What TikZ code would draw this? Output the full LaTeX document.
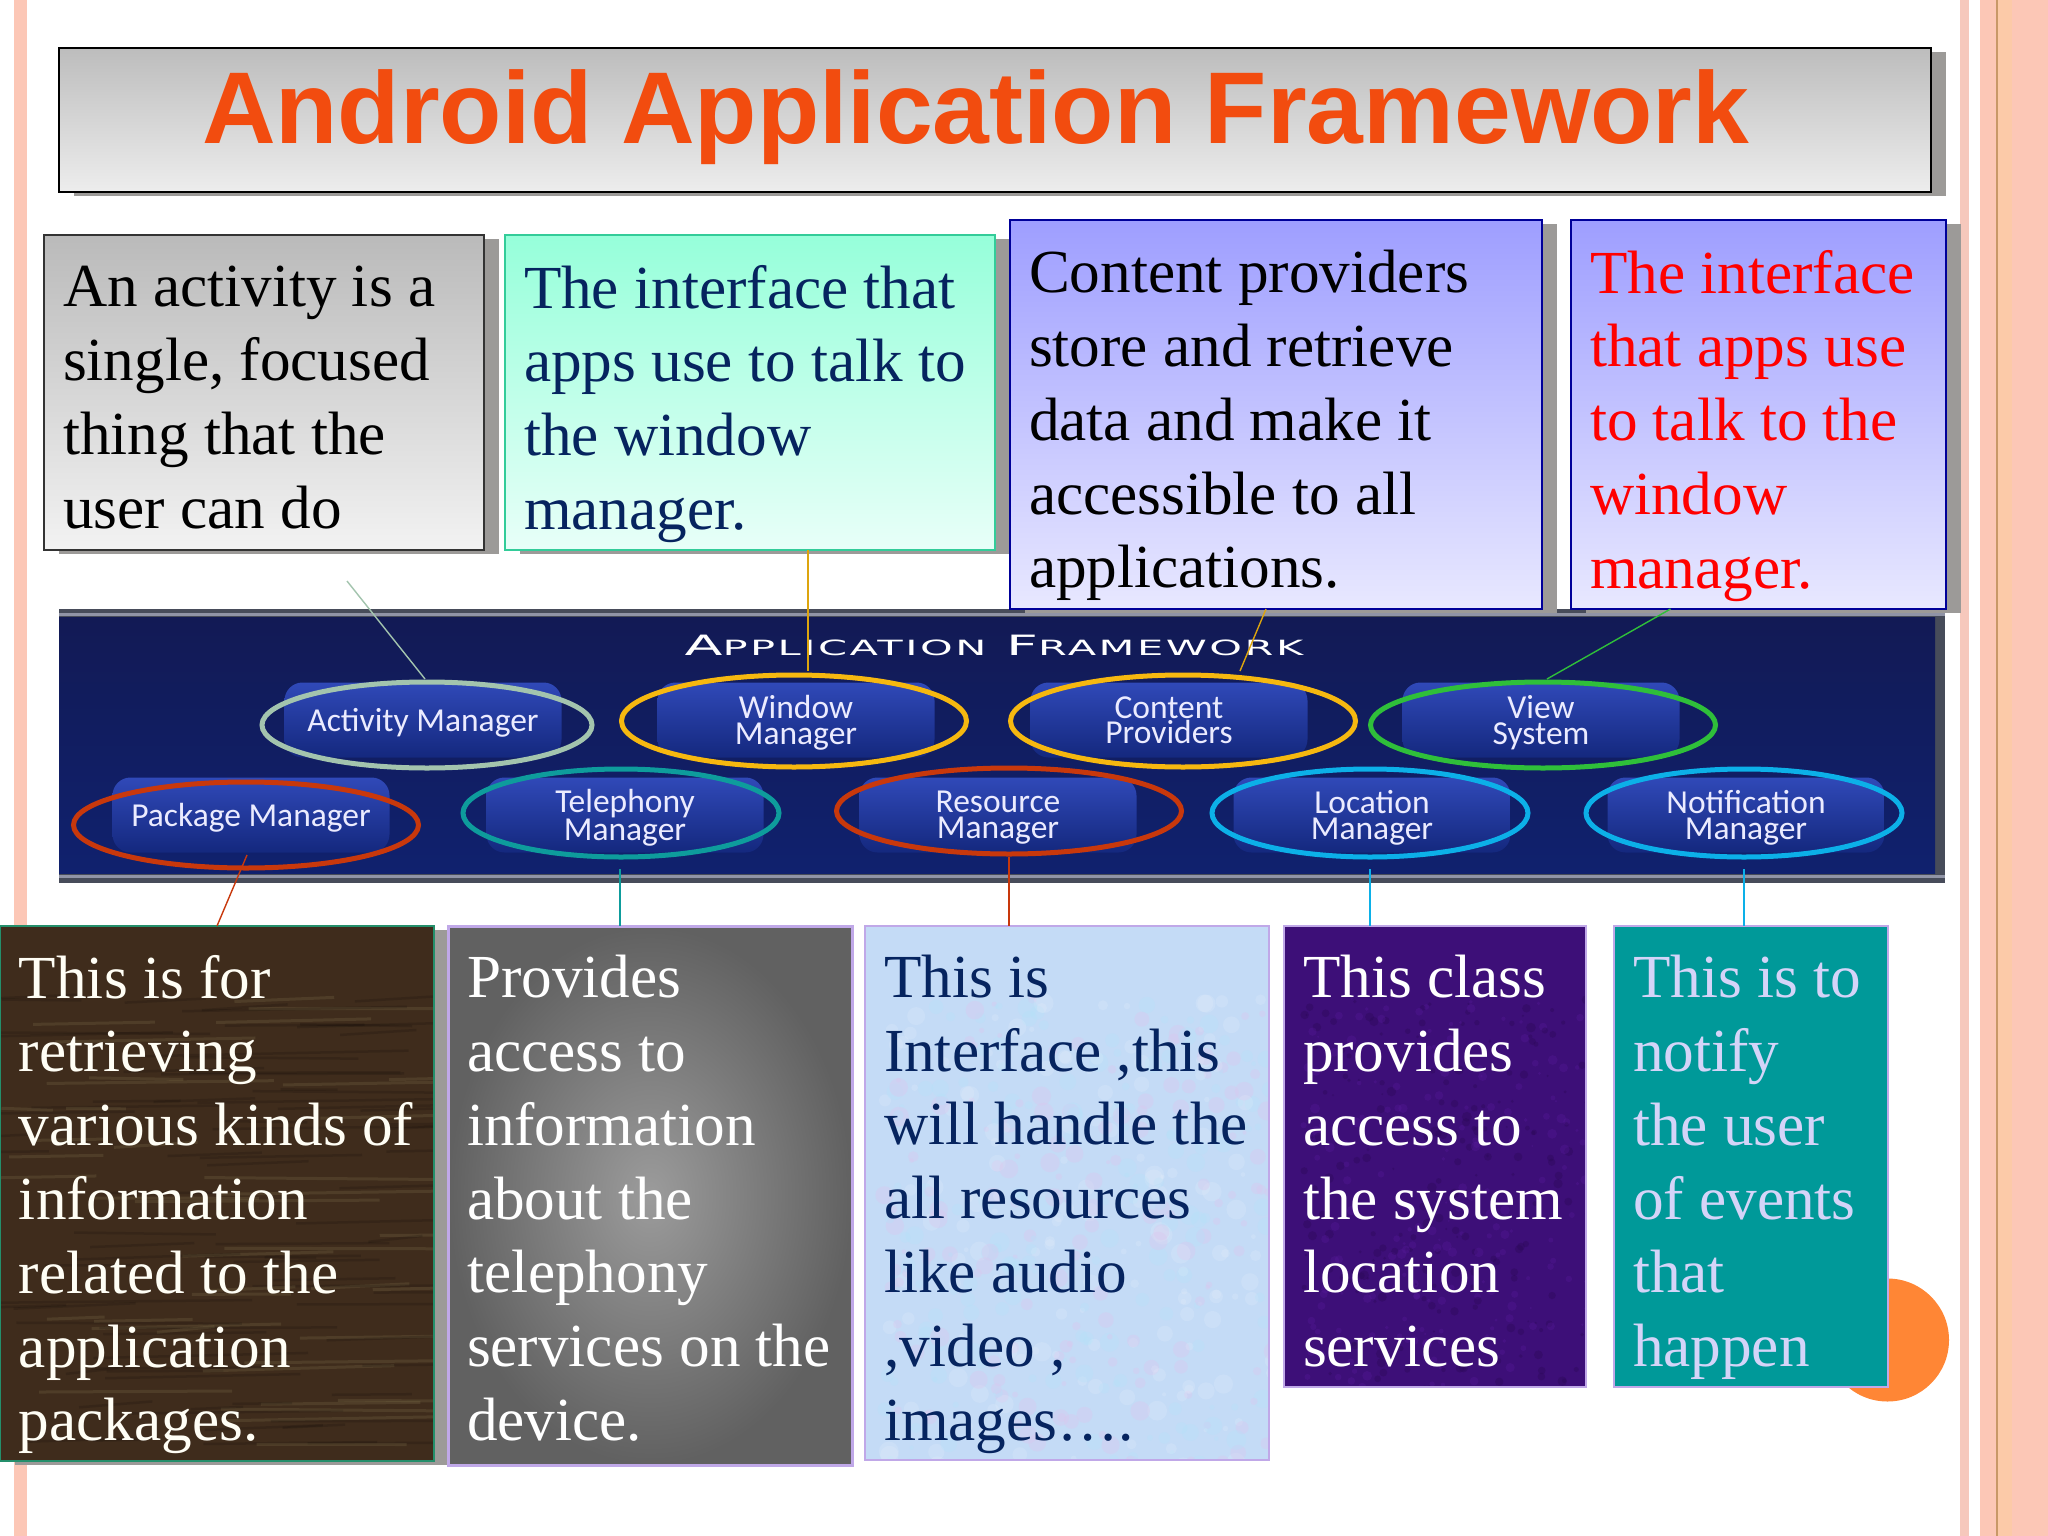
\documentclass[tikz,border=0pt]{standalone}
\usepackage{fontspec}
\usepackage{graphicx}
\usepackage{tikz}
\usetikzlibrary{shapes.geometric,shadows}
\setmainfont{Liberation Serif}
\newfontfamily\titlefont{Liberation Sans}
\newfontfamily\btnfont{Carlito}
\newfontfamily\capsfont{DejaVu Sans}[LetterSpace=6]

\definecolor{pinkstrip}{HTML}{FCC7B6}
\definecolor{palepink}{HTML}{F6C8BC}
\definecolor{peachstrip}{HTML}{FCCAA8}
\definecolor{tanline}{HTML}{C89868}
\definecolor{dotorange}{HTML}{FF8635}
\definecolor{titleorange}{HTML}{F24C0F}
\definecolor{shadowgrey}{HTML}{9C9A98}
\definecolor{sage}{HTML}{A3C4AE}
\definecolor{amber}{HTML}{F6B810}
\definecolor{rust}{HTML}{C8380C}
\definecolor{tealring}{HTML}{0E9C9C}
\definecolor{skyring}{HTML}{0CB0E8}
\definecolor{greenring}{HTML}{2FBF3A}
\definecolor{inkblue}{HTML}{06245F}
\definecolor{lilac}{HTML}{C0A8E8}
\definecolor{btntop}{HTML}{3049B8}
\definecolor{btnlow}{HTML}{14287E}
\definecolor{bandtop}{HTML}{121A55}
\definecolor{bandlow}{HTML}{10216E}
\definecolor{framedark}{HTML}{474C5A}
\definecolor{framelight}{HTML}{9094A6}
\definecolor{mint}{HTML}{96FFDA}
\definecolor{mintpale}{HTML}{E8FFF8}
\definecolor{mintedge}{HTML}{33CC99}
\definecolor{wood}{HTML}{3F2C1C}
\definecolor{woodlight}{HTML}{8F8358}
\definecolor{paper}{HTML}{C4DBF6}
\definecolor{paperblue}{HTML}{B4E2FA}
\definecolor{paperpink}{HTML}{DCC6EE}
\definecolor{plum}{HTML}{3D0F78}
\definecolor{plumlight}{HTML}{5A1C9E}
\definecolor{plumdark}{HTML}{2A0855}
\definecolor{seablue}{HTML}{009999}
\definecolor{seatext}{HTML}{D4D4F8}

\begin{document}
\begin{tikzpicture}[x=1pt,y=-1pt,outer sep=0pt,line cap=butt]
  \tikzstyle{note}=[rectangle,anchor=north west,align=flush left,inner ysep=0pt,inner xsep=19pt,
                    font=\fontsize{61.2}{73.8}\selectfont]
  \tikzstyle{four}=[note,text depth=212pt]
  \tikzstyle{five}=[note,text depth=286pt]
  \tikzstyle{six}=[note,text depth=360pt]
  \tikzstyle{seven}=[note,text depth=434pt]
  \tikzstyle{drop}=[general shadow={fill=shadowgrey,shadow xshift=15pt,shadow yshift=-4pt}]
  \tikzstyle{btn}=[rectangle,rounded corners=18pt,top color=btntop,bottom color=btnlow,text=white!92!blue,
                   align=flush center,inner sep=0pt,minimum width=277pt,minimum height=75pt,text depth=0pt,
                   font=\btnfont\fontsize{33.5}{25.6}\selectfont]
  \tikzstyle{ring}=[ellipse,draw,line width=5pt,inner sep=0pt]
  \tikzstyle{wide}=[ring,minimum width=345pt,minimum height=90pt]
  \tikzstyle{slim}=[ring,minimum width=316pt,minimum height=88pt]
  \tikzstyle{lead}=[line width=1.4pt]

  \useasboundingbox (0,0) rectangle (2048,1536);
  \fill[white] (0,0) rectangle (2048,1536);

  % side strips
  \fill[pinkstrip] (14,0) rectangle (27,1536);
  \fill[palepink] (1960,0) rectangle (1969,1536);
  \fill[pinkstrip] (1980,0) rectangle (2048,1536);
  \fill[peachstrip] (1998,0) rectangle (2012,1536);
  \fill[tanline] (1996,0) rectangle (1998,1536);
  \fill[dotorange] (1887.5,1340) circle (61.5);

  % title
  \node[note,drop,draw=black,line width=2pt,top color=black!26,bottom color=black!7,text=titleorange,
        minimum width=1872pt,minimum height=144pt,text width=1872pt,inner xsep=0pt,text depth=26pt,
        font=\titlefont\bfseries\fontsize{102}{110}\selectfont] (T) at (59,48)
        {\hspace*{143pt}Android Application Framework};

  % framework band
  \node[rectangle,anchor=north west,fill=framedark,minimum width=1886pt,minimum height=274pt] (F) at (59,609) {};
  \node[rectangle,anchor=north west,top color=bandtop,bottom color=bandlow,minimum width=1876pt,minimum height=256pt] (B) at (59,617) {};
  \draw[framelight,line width=3pt] (F.north west) ++(0,5) -- ++(1886,0);
  \draw[framelight,line width=3pt] (F.south west) ++(0,-7) -- ++(1886,0);
  \node[text=white,font=\capsfont\fontsize{21}{24}\selectfont] (H) at (994,645)
        {\scalebox{1.98}[1]{{\fontsize{28}{24}\selectfont A}PPLICATION\hspace{10pt}{\fontsize{28}{24}\selectfont F}RAMEWORK}};

  % buttons
  \node[btn] (a) at (423,720) {Activity Manager};
  \node[btn] (w) at (796,720) {Window\\Manager};
  \node[btn] (c) at (1169,720) {Content\\Providers};
  \node[btn] (v) at (1541,720) {View\\System};
  \node[btn] (p) at (251,815) {Package Manager};
  \node[btn] (t) at (625,815) {Telephony\\Manager};
  \node[btn] (r) at (998,815) {Resource\\Manager};
  \node[btn] (l) at (1372,815) {Location\\Manager};
  \node[btn] (n) at (1746,815) {Notification\\Manager};

  % rings
  \node[ring,draw=sage,minimum width=330pt,minimum height=86pt] (A) at (427,725) {};
  \node[wide,draw=amber,minimum height=92pt] (W) at (794,721) {};
  \node[wide,draw=amber,minimum height=92pt] (C) at (1183,721) {};
  \node[wide,draw=greenring,minimum height=86pt] (V) at (1543,725) {};
  \node[wide,draw=rust,minimum height=86pt] (P) at (246,825) {};
  \node[slim,draw=tealring] (Te) at (621,813) {};
  \node[wide,draw=rust,minimum height=86pt] (R) at (1009,811) {};
  \node[slim,draw=skyring] (L) at (1370,813) {};
  \node[slim,draw=skyring] (N) at (1744,813) {};

  % upper notes
  \node[four,drop,draw=black!80,line width=1.5pt,top color=black!27,bottom color=black!5,
        minimum width=440pt,minimum height=315pt,text width=402pt] (An) at (44,235)
        {An activity is a\\single, focused\\thing that the\\user can do};
  \node[four,drop,draw=mintedge,line width=1.5pt,top color=mint,bottom color=mintpale,text=inkblue,
        minimum width=490pt,minimum height=315pt,text width=452pt] (Wn) at (505,235)
        {The interface that\\apps use to talk to\\the window\\manager.};
  \node[five,drop,draw=blue!60!black,line width=1.5pt,top color=blue!38!white,bottom color=blue!9!white,
        minimum width=532pt,minimum height=389pt,text width=494pt] (Cn) at (1010,220)
        {Content providers\\store and retrieve\\data and make it\\accessible to all\\applications.};
  \node[five,drop,draw=blue!60!black,line width=1.5pt,top color=blue!38!white,bottom color=blue!9!white,text=red,
        minimum width=375pt,minimum height=389pt,text width=337pt] (Vn) at (1571,220)
        {The interface\\that apps use\\to talk to the\\window\\manager.};

  % lower notes
  \node[seven,drop,draw=mintedge!70!black,line width=2pt,fill=wood,text=white!96!yellow,
        path picture={
          \begin{scope}[shift={(path picture bounding box.north west)}]
            \pgfmathsetseed{11}
            \foreach \i in {1,...,130} {
              \pgfmathsetmacro\sx{rnd*434-60}
              \pgfmathsetmacro\sy{rnd*535}
              \pgfmathsetmacro\sl{50+rnd*220}
              \pgfmathsetmacro\sd{rnd*8-6}
              \pgfmathparse{int(mod(\i,3))}
              \ifnum\pgfmathresult=0
                \draw[woodlight,opacity=.2,line width=3pt] (\sx,\sy) -- ++(\sl,\sd);
              \else
                \draw[black,opacity=.14,line width=2.5pt] (\sx,\sy) -- ++(\sl,\sd);
              \fi
            }
          \end{scope}},
        minimum width=434pt,minimum height=535pt,text width=396pt] (Pn) at (0,926)
        {This is for\\retrieving\\various kinds of\\information\\related to the\\application\\packages.};
  \node[note,text depth=438pt,draw=lilac,line width=3pt,inner color=black!39,outer color=black!62,text=white,
        minimum width=404pt,minimum height=539pt,text width=366pt] (Tn) at (448,926)
        {Provides\\access to\\information\\about the\\telephony\\services on the\\device.};
  \node[seven,draw=lilac,line width=1.5pt,fill=paper,text=inkblue,
        path picture={
          \begin{scope}[shift={(path picture bounding box.north west)}]
            \pgfmathsetseed{5}
            \foreach \i in {1,...,600} {
              \pgfmathsetmacro\sx{rnd*404}
              \pgfmathsetmacro\sy{rnd*534}
              \pgfmathsetmacro\sr{2+rnd*8}
              \pgfmathparse{int(mod(\i,3))}
              \ifnum\pgfmathresult=0
                \fill[paperpink,opacity=.35] (\sx,\sy) circle (\sr);
              \else
                \ifnum\pgfmathresult=1
                  \fill[paperblue,opacity=.3] (\sx,\sy) circle (\sr);
                \else
                  \fill[white,opacity=.12] (\sx,\sy) circle (\sr);
                \fi
              \fi
            }
          \end{scope}},
        minimum width=404pt,minimum height=534pt,text width=366pt] (Rn) at (865,926)
        {This is\\Interface ,this\\will handle the\\all resources\\like audio\\,video ,\\images\ldots.};
  \node[six,draw=lilac,line width=1.5pt,fill=plum,text=white,
        path picture={
          \begin{scope}[shift={(path picture bounding box.north west)}]
            \pgfmathsetseed{3}
            \foreach \i in {1,...,500} {
              \pgfmathsetmacro\sx{rnd*302}
              \pgfmathsetmacro\sy{rnd*461}
              \pgfmathsetmacro\sr{1+rnd*4}
              \pgfmathparse{int(mod(\i,2))}
              \ifnum\pgfmathresult=0
                \fill[plumdark,opacity=.35] (\sx,\sy) circle (\sr);
              \else
                \fill[plumlight,opacity=.3] (\sx,\sy) circle (\sr);
              \fi
            }
          \end{scope}},
        minimum width=302pt,minimum height=461pt,text width=264pt] (Ln) at (1284,926)
        {This class\\provides\\access to\\the system\\location\\services};
  \node[six,draw=lilac,line width=1.5pt,fill=seablue,text=seatext,
        minimum width=274pt,minimum height=461pt,text width=236pt] (Nn) at (1614,926)
        {This is to\\notify\\the user\\of events\\that\\happen};

  % leads
  \coordinate (ac) at (347,581);
  \coordinate (pc) at (247,855);
  \coordinate (tc) at (620,869);
  \coordinate (lc) at (1370,869);
  \coordinate (nc) at (1744,869);
  \path[lead] (ac) edge [sage] ([xshift=-2pt,yshift=3pt]A.north)
     ([xshift=58pt]Wn.south) edge [amber!90!black] ([xshift=14pt,yshift=4pt]W.north)
     ([xshift=-10pt]Cn.south) edge [amber!90!black] ([xshift=57pt,yshift=4pt]C.north)
     ([xshift=-88pt]Vn.south) edge [greenring] ([xshift=4pt,yshift=3pt]V.north)
     (pc) edge [rust] (Pn.north)
     (tc) edge [tealring] ([xshift=-30pt]Tn.north)
     ([yshift=-3pt]R.south) edge [rust] ([xshift=-58pt]Rn.north)
     (lc) edge [skyring] ([xshift=-65pt]Ln.north)
     (nc) edge [skyring] ([xshift=-7pt]Nn.north);
\end{tikzpicture}
\end{document}
